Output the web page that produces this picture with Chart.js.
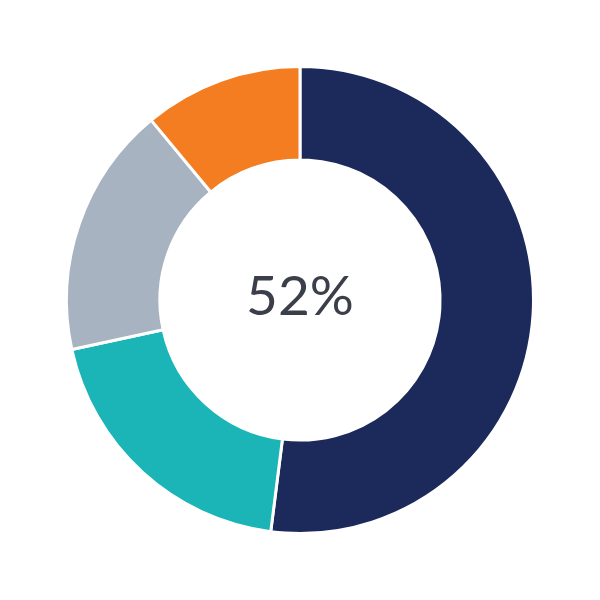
<!DOCTYPE html>
<html>
<head>
<meta charset="utf-8">
<script src="https://cdn.jsdelivr.net/npm/chart.js@4/dist/chart.umd.min.js"></script>
<style>
  html, body { margin: 0; padding: 0; background: #fff; }
  #wrap { width: 600px; height: 600px; }
</style>
</head>
<body>
<div id="wrap"><canvas id="grafico"></canvas></div>
<script>
const categorias = ['A', 'B', 'C', 'D'];
const valores = [52, 19.6, 17.4, 11];
const colores = ['#1b2a5a', '#1bb5b8', '#a8b3c1', '#f37d20'];
const textoCentro = '52%';

// texto en el centro del anillo
const centroPlugin = {
  id: 'centro',
  afterDraw(chart) {
    const ctx = chart.ctx;
    const meta = chart.getDatasetMeta(0).data[0];
    ctx.save();
    ctx.font = '400 55px Lato';
    ctx.fillStyle = '#3a3f4a';
    ctx.textAlign = 'center';
    ctx.textBaseline = 'middle';
    ctx.fillText(textoCentro, meta.x, meta.y - 3);
    ctx.restore();
  }
};

new Chart(document.getElementById('grafico'), {
  type: 'doughnut',
  data: {
    labels: categorias,
    datasets: [{
      data: valores,
      backgroundColor: colores,
      borderColor: '#ffffff',
      borderWidth: 3
    }]
  },
  options: {
    responsive: true,
    maintainAspectRatio: false,
    animation: false,
    cutout: '60%',
    layout: { padding: 65 },
    plugins: {
      legend: { display: false },
      tooltip: { enabled: false }
    }
  },
  plugins: [centroPlugin]
});
</script>
</body>
</html>
